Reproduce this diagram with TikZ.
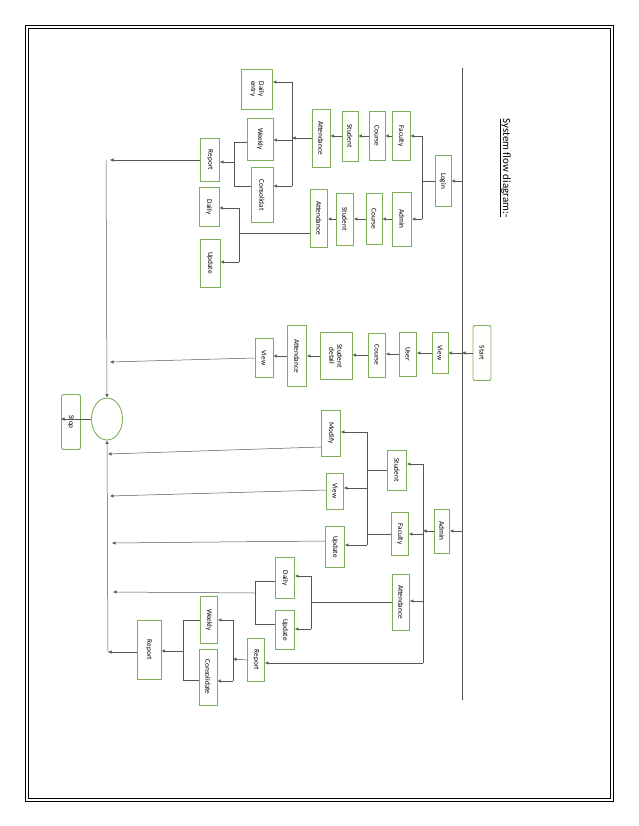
\documentclass[tikz,border=0pt]{standalone}
\usepackage{fontspec}
\setmainfont{Carlito}
\usetikzlibrary{arrows.meta,shapes.geometric}
\definecolor{gb}{HTML}{7DAE5A}
\definecolor{ln}{HTML}{555555}
\tikzset{
 box/.style={draw=gb,line width=0.9pt,rotate=-90,inner sep=1pt,font=\fontsize{7.3}{8}\selectfont,align=center,fill=white},
 rbox/.style={box,rounded corners=2pt},
 arr/.style={draw=ln,line width=0.5pt,-{Latex[length=3.5pt,width=3.5pt]}},
 pl/.style={draw=ln,line width=0.5pt}
}
% #1 style #2 name #3 x #4 y #5 page width #6 page height #7 text
\newcommand\bx[7][box]{\node[#1,minimum width=#6pt,minimum height=#5pt] (#2) at (#3,#4) {#7};}
\begin{document}
\begin{tikzpicture}[x=1pt,y=-1pt]
\useasboundingbox (0,0) rectangle (638,826);
\draw[line width=0.8pt] (25,25) rectangle (613,801);
\draw[line width=0.4pt] (28,28) rectangle (610,798);
\node[rotate=-90,font=\fontsize{11}{12}\selectfont] (title) at (505,168) {\underline{System flow diagram:-}};
\coordinate (mt) at (462,68); \coordinate (mb) at (462,700);
\draw[pl] (mt) -- (mb);
% left block
\bx{login}{443}{181}{16}{51}{Login}
\bx{fac}{401}{136}{18}{49}{Faculty}
\bx{co1}{377}{136}{16}{49}{Course}
\bx{st1}{350}{136}{16}{50}{Student}
\bx{at1}{321}{138}{18}{58}{Attendance}
\bx{adm}{402}{219}{19}{54}{Admin}
\bx{co2}{374}{219}{16}{51}{Course}
\bx{st2}{345}{219}{17}{52}{Student}
\bx{at2}{319}{218}{17}{58}{Attendance}
\bx{de}{257}{89}{31}{40}{Daily\\entry}
\bx{wk1}{260}{139}{26}{42}{Weekly}
\bx{cons1}{262}{195}{22}{55}{Consolidat}
\bx{rep1}{210}{160}{19}{43}{Report}
\bx{dl1}{209}{207}{20}{39}{Daily}
\bx{up1}{210}{263}{20}{48}{Update}
\coordinate (a1) at (462,181);
\draw[arr] (a1) -- (login.north);
\coordinate (j1) at (422,181);
\draw[pl] (login.south) -- (j1);
\draw[pl] (422,136) -- (422,219);
\draw[arr] (422,136) -- (422,136 -| fac.north);
\draw[arr] (422,219) -- (422,219 -| adm.north);
\draw[arr] (fac.south) -- (co1.north);
\draw[arr] (co1.south) -- (st1.north);
\draw[arr] (st1.south) -- (at1.north |- st1.south);
\draw[arr] (adm.south) -- (co2.north);
\draw[arr] (co2.south) -- (st2.north);
\draw[arr] (st2.south) -- (at2.north |- st2.south);
\coordinate (j2) at (292,138);
\draw[arr] (at1.south) -- (j2);
\draw[pl] (292,82) -- (292,186);
\draw[arr] (292,82) -- (292,82 -| de.north);
\draw[arr] (292,140) -- (292,140 -| wk1.north);
\draw[arr] (292,186) -- (292,186 -| cons1.north);
\draw[pl] (wk1.south |- 0,142) -- (234,142) -- (234,186) -- (cons1.south |- 0,186);
\coordinate (j3) at (234,162);
\draw[arr] (j3) -- (j3 -| rep1.north);
\coordinate (j4) at (239,233);
\draw[pl] (at2.south |- j4) -- (j4);
\draw[pl] (239,208) -- (239,262);
\draw[arr] (239,208) -- (239,208 -| dl1.north);
\draw[arr] (239,262) -- (239,262 -| up1.north);
% stop end
\node[draw=gb,line width=0.9pt,ellipse,minimum width=31pt,minimum height=42pt,inner sep=0pt] (ell) at (107,419) {};
\bx[rbox]{stop}{71}{422}{19}{55}{Stop}
\draw[arr] (ell.west) -- (stop.south |- ell.west);
\coordinate (e1) at (106,160);
\draw[arr] (rep1.south |- e1) -- (110,160);
\draw[arr] (e1) -- (ell.north);
\coordinate (e2) at (108,652);
\draw[arr] (e2) -- (ell.south);
% middle
\bx[rbox]{start}{482}{353}{18}{55}{Start}
\bx{v1}{440}{353}{16}{41}{View}
\bx{us}{408}{354}{17}{44}{User}
\bx{co3}{377}{355}{17}{44}{Course}
\bx{sd}{336}{356}{32}{47}{Student\\detail}
\bx{at3}{297}{356}{19}{61}{Attendance}
\bx{v2}{264}{358}{18}{39}{View}
\coordinate (a2) at (462,353);
\draw[arr] (start.south) -- (a2);
\draw[arr] (a2) -- (v1.north);
\draw[arr] (v1.south) -- (us.north |- v1.south);
\draw[arr] (us.south) -- (co3.north |- us.south);
\draw[arr] (co3.south) -- (sd.north |- co3.south);
\draw[arr] (sd.south) -- (at3.north |- sd.south);
\draw[arr] (at3.south) -- (v2.north |- at3.south);
\draw[arr] (v2.south) -- (110,362);
% right block
\bx{mod}{331}{433}{19}{46}{Modify}
\bx{st3}{397}{470}{19}{40}{Student}
\bx{v3}{335}{491}{17}{36}{View}
\bx{adm3}{442}{531}{15}{44}{Admin}
\bx{fac3}{400}{534}{17}{43}{Faculty}
\bx{up3}{335}{547}{19}{41}{Update}
\bx{dl4}{285}{578}{19}{41}{Daily}
\bx{at4}{401}{602}{17}{56}{Attendance}
\bx{up4}{285}{630}{19}{39}{Update}
\bx{wk5}{209}{620}{17}{47}{Weekly}
\bx{rep5}{256}{660}{17}{43}{Report}
\bx{cons5}{208}{677}{18}{56}{Consolidate}
\bx{rep6}{149}{650}{24}{59}{Report}
\coordinate (a3) at (462,531);
\draw[arr] (a3) -- (adm3.north);
\draw[arr] (adm3.south) -- (423,531);
\draw[pl] (423,464) -- (423,663);
\draw[arr] (423,464) -- (423,464 -| st3.north);
\draw[arr] (423,534) -- (423,534 -| fac3.north);
\draw[arr] (423,601) -- (423,601 -| at4.north);
\draw[arr] (423,663) -- (423,663 -| rep5.north);
\draw[pl] (st3.south) -- (367,470);
\draw[pl] (fac3.south) -- (367,534);
\draw[pl] (367,432) -- (367,545);
\draw[arr] (367,432) -- (367,432 -| mod.north);
\draw[arr] (367,488) -- (367,488 -| v3.north);
\draw[arr] (367,545) -- (367,545 -| up3.north);
\draw[arr] (mod.south |- 0,447) -- (108,454);
\draw[arr] (v3.south |- 0,490) -- (110,496);
\draw[arr] (up3.south |- 0,541) -- (112,543);
\coordinate (j5) at (311,602);
\draw[pl] (at4.south) -- (j5);
\draw[pl] (311,576) -- (311,629);
\draw[arr] (311,576) -- (311,576 -| dl4.north);
\draw[arr] (311,629) -- (311,629 -| up4.north);
\draw[pl] (dl4.south |- 0,581) -- (255,581) -- (255,624) -- (up4.south |- 0,624);
\draw[arr] (255,593) -- (113,592);
\coordinate (j6) at (233,659);
\draw[arr] (rep5.south) -- (j6);
\draw[pl] (233,620) -- (233,681);
\draw[arr] (233,620) -- (233,620 -| wk5.north);
\draw[arr] (233,681) -- (233,681 -| cons5.north);
\draw[pl] (wk5.south |- 0,620) -- (183,620) -- (183,680) -- (cons5.south |- 0,680);
\draw[arr] (183,651) -- (183,651 -| rep6.north);
\draw[arr] (rep6.south |- 0,652) -- (e2);
\end{tikzpicture}
\end{document}
